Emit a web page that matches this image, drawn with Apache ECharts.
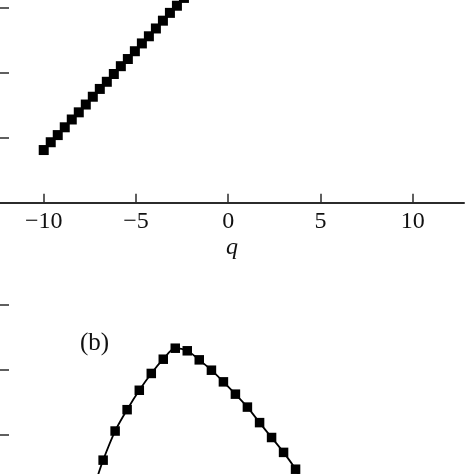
<!DOCTYPE html>
<html>
<head>
<meta charset="utf-8">
<script src="https://cdn.jsdelivr.net/npm/echarts@6/dist/echarts.min.js"></script>
<style>html,body{margin:0;padding:0;background:#fff}#c{width:474px;height:474px}</style>
</head>
<body>
<div id="c"></div>
<script>
// ---- data ----
var xTicks = [-10, -5, 0, 5, 10];
var xName = 'q';
var panelLabel = '(b)';
var yTicksTop = [1, 2, 3];
var yTicksBottom = [1, 2, 3];

// panel (a): squares
var topQ = [-10, -9.62, -9.24, -8.86, -8.48, -8.10, -7.72, -7.34, -6.96, -6.58, -6.20,
            -5.82, -5.44, -5.06, -4.68, -4.30, -3.92, -3.54, -3.16, -2.78, -2.40, -2.02];
var topY = [0.81, 0.93, 1.04, 1.16, 1.28, 1.39, 1.51, 1.63, 1.75, 1.86, 1.98,
            2.10, 2.21, 2.33, 2.45, 2.56, 2.68, 2.80, 2.92, 3.03, 3.15, 3.27];

// panel (b): squares
var botQ = [-6.78, -6.13, -5.48, -4.82, -4.17, -3.52, -2.87, -2.22, -1.57, -0.91,
            -0.26, 0.39, 1.04, 1.70, 2.35, 3.00, 3.65];
var botY = [0.60, 1.05, 1.38, 1.68, 1.94, 2.16, 2.33, 2.29, 2.15, 1.99,
            1.81, 1.62, 1.42, 1.18, 0.95, 0.72, 0.46];
// panel (b): fitted curve
var fitQ = [-7.25, -6.78, -6.13, -5.48, -4.82, -4.17, -3.52, -2.87, -2.22, -1.57, -0.91,
            -0.26, 0.39, 1.04, 1.70, 2.35, 3.00, 3.65, 4.05];
var fitY = [0.20, 0.60, 1.05, 1.38, 1.68, 1.94, 2.16, 2.33, 2.29, 2.15, 1.99,
            1.81, 1.62, 1.42, 1.18, 0.95, 0.72, 0.46, 0.25];

function zip(a, b) { return a.map(function (v, i) { return [v, b[i]]; }); }
function fmt(v) { return String(v).replace('-', '\u2212'); }

var axisColor = '#2b2b2b';
var serif = 'Liberation Serif';

var chart = echarts.init(document.getElementById('c'), null, {renderer: 'canvas'});
chart.setOption({
  animation: false,
  backgroundColor: '#ffffff',
  grid: [
    {left: 0, right: 10, top: 0, bottom: 271.3},
    {left: 0, right: 10, top: 272.5, bottom: 0}
  ],
  xAxis: [
    {
      gridIndex: 0, type: 'value', min: -12.37, max: 12.78,
      splitLine: {show: false},
      axisLine: {show: true, onZero: false, lineStyle: {color: axisColor, width: 2}},
      axisTick: {show: true, inside: true, length: 9, customValues: xTicks,
                 lineStyle: {color: axisColor, width: 1.5}},
      axisLabel: {show: true, customValues: xTicks, formatter: fmt, margin: 7,
                  fontFamily: serif, fontSize: 24, color: '#111'},
      name: xName, nameLocation: 'middle', nameGap: 33,
      nameTextStyle: {fontFamily: serif, fontSize: 24, fontStyle: 'italic', color: '#111'}
    },
    {
      gridIndex: 1, type: 'value', min: -12.37, max: 12.78, show: false
    }
  ],
  yAxis: [
    {
      gridIndex: 0, type: 'value', min: 0, max: 3.118,
      splitLine: {show: false},
      axisLine: {show: false, onZero: false},
      axisTick: {show: true, inside: true, length: 9, customValues: yTicksTop,
                 lineStyle: {color: axisColor, width: 1.5}},
      axisLabel: {show: false}
    },
    {
      gridIndex: 1, type: 'value', min: 0.386, max: 3.5,
      splitLine: {show: false},
      axisLine: {show: false, onZero: false},
      axisTick: {show: true, inside: true, length: 9, customValues: yTicksBottom,
                 lineStyle: {color: axisColor, width: 1.5}},
      axisLabel: {show: false}
    }
  ],
  graphic: [
    {type: 'text', left: 80, top: 331,
     style: {text: panelLabel, font: '25px "Liberation Serif"', fill: '#111'}}
  ],
  series: [
    {
      type: 'line', xAxisIndex: 0, yAxisIndex: 0, clip: false,
      data: zip(topQ, topY),
      symbol: 'rect', symbolSize: 10, showSymbol: true,
      itemStyle: {color: '#000', opacity: 1},
      lineStyle: {color: '#000', width: 1.5}
    },
    {
      type: 'line', xAxisIndex: 1, yAxisIndex: 1,
      data: zip(fitQ, fitY),
      smooth: 0.3, showSymbol: false, symbol: 'none',
      lineStyle: {color: '#000', width: 1.8}
    },
    {
      type: 'scatter', xAxisIndex: 1, yAxisIndex: 1,
      data: zip(botQ, botY),
      symbol: 'rect', symbolSize: 9.5,
      itemStyle: {color: '#000', opacity: 1}
    }
  ]
});
</script>
</body>
</html>
